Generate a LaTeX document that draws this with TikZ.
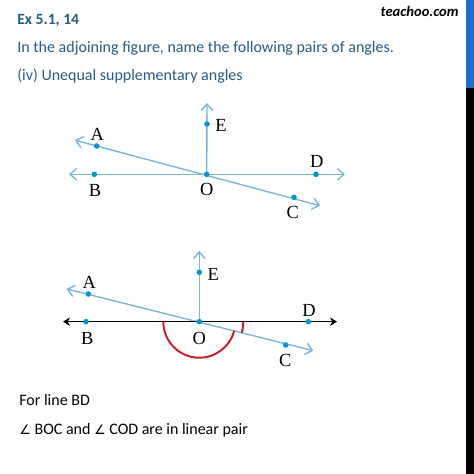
\documentclass[tikz,border=0pt]{standalone}
\usepackage{fontspec}
\setmainfont{Carlito}
\newfontfamily\figfont{Liberation Serif}
\newfontfamily\symfont{DejaVu Sans}
\usepackage{tikz}
\usetikzlibrary{positioning, arrows.meta, calc}

\definecolor{headblue}{RGB}{38,92,138}
\definecolor{rayblue}{RGB}{120,182,222}
\definecolor{dotblue}{RGB}{0,150,212}
\definecolor{barblue}{RGB}{30,110,200}
\definecolor{arcred}{RGB}{200,30,40}

\begin{document}
\begin{tikzpicture}[
    x=0.02cm, y=-0.02cm,
    ray/.style={draw=rayblue, line width=0.8pt},
    barb/.tip={Straight Barb[length=1.3mm, width=2.3mm]},
    dot/.style={circle, fill=dotblue, inner sep=0pt, minimum size=0.105cm},
    lbl/.style={font=\figfont\fontsize{10.5}{11}\selectfont, inner sep=0pt},
    txt/.style={anchor=base west, inner sep=0pt, font=\fontsize{9.1}{10}\selectfont}
]
    \useasboundingbox[fill=white] (0,0) rectangle (474,474);

    % Side bar
    \fill[barblue] (466,0) rectangle (474,88);
    \fill[black] (466,88) rectangle (474,474);

    % Heading
    \node[txt, font=\fontsize{8.9}{10}\selectfont\bfseries, text=headblue] (ex) at (17,24) {Ex 5.1, 14};
    \node[txt, anchor=base east, font=\fontsize{8.3}{9}\selectfont\bfseries\itshape] (site) at (459,16) {teachoo.com};
    \node[txt, text=headblue] (q) at (17,52) {In the adjoining figure, name the following pairs of angles.};
    \node[txt, text=headblue] (part) at (17,80) {(iv) Unequal supplementary angles};

    % First figure
    \node[dot] (O1) at (206.7,174.3) {};
    \node[dot] (B1) at (94.3,174.3) {};
    \node[dot] (D1) at (316,174.3) {};
    \node[dot] (E1) at (207,124) {};
    \node[dot] (A1) at (96.7,146) {};
    \node[dot] (C1) at (294,197.3) {};
    \coordinate (BD1l) at (69,174.3);
    \coordinate (BD1r) at (345,174.3);
    \coordinate (E1t) at (207,103);
    \coordinate (AC1l) at (75,140.2);
    \coordinate (AC1r) at (320,205.7);

    \draw[ray, barb-barb] (BD1l) -- (BD1r);
    \draw[ray, barb-barb] (AC1l) -- (AC1r);
    \draw[ray, -barb] (O1.center) -- (E1t);
    \foreach \p in {O1,B1,D1,E1,A1,C1} \node[dot] at (\p) {};

    \node[lbl] (lA1) at (97.3,134) {A};
    \node[lbl] (lE1) at (221,125) {E};
    \node[lbl] (lD1) at (316.7,161) {D};
    \node[lbl] (lB1) at (95,190) {B};
    \node[lbl] (lO1) at (206.7,189) {O};
    \node[lbl] (lC1) at (292.7,212) {C};

    % Second figure
    \node[dot] (O2) at (199.3,321.7) {};
    \node[dot] (B2) at (86,321.7) {};
    \node[dot] (D2) at (308.3,321.7) {};
    \node[dot] (E2) at (199.3,272.3) {};
    \node[dot] (A2) at (88.3,294) {};
    \node[dot] (C2) at (285.7,345) {};
    \coordinate (BD2l) at (63,321.7);
    \coordinate (BD2r) at (337,321.7);
    \coordinate (E2t) at (199.3,251);
    \coordinate (AC2l) at (66.7,289);
    \coordinate (AC2r) at (313.3,350.7);

    \draw[ray, barb-barb] (AC2l) -- (AC2r);
    \draw[ray, -barb] (O2.center) -- (E2t);
    \draw[black, line width=0.8pt, {Stealth[length=1.4mm, width=1.7mm]}-{Stealth[length=1.4mm, width=1.7mm]}] (BD2l) -- (BD2r);
    \foreach \p in {O2,B2,D2,E2,A2,C2} \node[dot] at (\p) {};

    % Angles BOC and COD
    \draw[arcred, line width=1.1pt] ($(O2.center)+(180:36)$) arc[start angle=180, end angle=14.6, radius=36];
    \draw[arcred, line width=1.1pt] ($(O2.center)+(0:44)$) arc[start angle=0, end angle=14.6, radius=44];

    \node[lbl] (lA2) at (89.3,282) {A};
    \node[lbl] (lE2) at (213.3,274) {E};
    \node[lbl] (lD2) at (309,310) {D};
    \node[lbl] (lB2) at (87.3,338.3) {B};
    \node[lbl] (lO2) at (199.3,338.3) {O};
    \node[lbl] (lC2) at (285.3,360) {C};

    % Answer
    \node[txt] (line) at (19,405) {For line BD};
    \node[txt] (pair) at (19,434) {{\symfont\fontsize{7.4}{8}\selectfont ∠} BOC and {\symfont\fontsize{7.4}{8}\selectfont ∠} COD are in linear pair};
\end{tikzpicture}
\end{document}
